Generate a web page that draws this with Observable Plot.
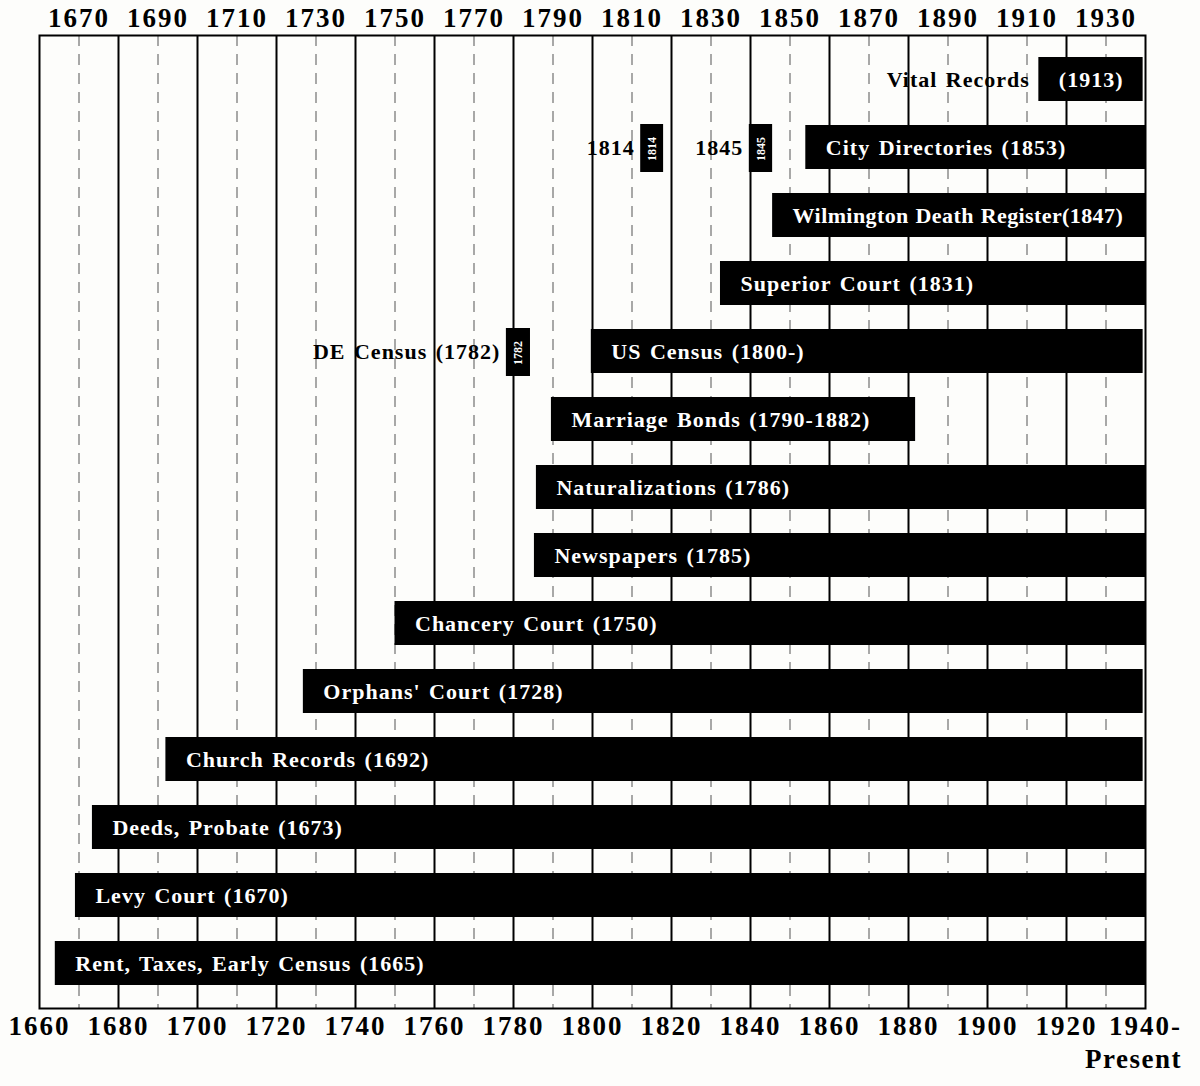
<!DOCTYPE html>
<html>
<head>
<meta charset="utf-8">
<script src="https://cdn.jsdelivr.net/npm/d3@7"></script>
<script src="https://cdn.jsdelivr.net/npm/@observablehq/plot@0.6"></script>
<style>
  html, body { margin: 0; padding: 0; background: #fdfdfb; }
  #chart svg { display: block; background: #fdfdfb; }
</style>
</head>
<body>
<div id="chart"></div>
<script>
// Record series (rows top to bottom)
const rows = [
  "Vital Records", "City Directories", "Wilmington Death Register", "Superior Court",
  "US Census", "Marriage Bonds", "Naturalizations", "Newspapers", "Chancery Court",
  "Orphans' Court", "Church Records", "Deeds, Probate", "Levy Court",
  "Rent, Taxes, Early Census"
];
const barLabels = [
  "(1913)", "City Directories (1853)", "Wilmington Death Register(1847)", "Superior Court (1831)",
  "US Census (1800-)", "Marriage Bonds (1790-1882)", "Naturalizations (1786)", "Newspapers (1785)",
  "Chancery Court (1750)", "Orphans' Court (1728)", "Church Records (1692)", "Deeds, Probate (1673)",
  "Levy Court (1670)", "Rent, Taxes, Early Census (1665)"
];
const starts = [1913, 1854, 1845.6, 1832.4, 1799.7, 1789.6, 1785.8, 1785.3, 1750, 1726.8, 1692, 1673.4, 1669.1, 1664];
const ends   = [1939.4, 1940, 1940, 1940, 1939.4, 1881.8, 1940, 1940, 1940, 1939.4, 1939.4, 1940, 1940, 1940];

// Outside (black) labels
const outRows = ["Vital Records"];
const outLabels = ["Vital Records"];
const outX = [1913];

// Small single-year markers
const markerRows   = ["City Directories", "City Directories", "US Census"];
const markerYears  = ["1814", "1845", "1782"];
const markerStarts = [1812.2, 1839.7, 1778.2];
const markerEnds   = [1818.0, 1845.6, 1784.3];
const markerOuter  = ["1814", "1845", "DE Census (1782)"];

// Axis ticks
const topTicks = [1670, 1690, 1710, 1730, 1750, 1770, 1790, 1810, 1830, 1850, 1870, 1890, 1910, 1930];
const bottomTicks = [1660, 1680, 1700, 1720, 1740, 1760, 1780, 1800, 1820, 1840, 1860, 1880, 1900, 1920, 1940];
const solidGrid = [1680, 1700, 1720, 1740, 1760, 1780, 1800, 1820, 1840, 1860, 1880, 1900, 1920];
const dashedGrid = topTicks;

const bars = rows.map((r, i) => ({row: r, label: barLabels[i], x1: starts[i], x2: ends[i]}));
const outs = outRows.map((r, i) => ({row: r, label: outLabels[i], x: outX[i]}));
const markers = markerRows.map((r, i) => ({row: r, year: markerYears[i], x1: markerStarts[i], x2: markerEnds[i], outer: markerOuter[i]}));

const FONT = "'Liberation Serif', 'Times New Roman', serif";

const chart = Plot.plot({
  width: 1200,
  height: 1086,
  marginTop: 35,
  marginBottom: 78,
  marginLeft: 39,
  marginRight: 55,
  style: {fontFamily: FONT, background: "#fdfdfb", overflow: "visible"},
  x: {domain: [1660, 1940], axis: null},
  y: {domain: rows, range: [45, 997], paddingInner: 0.35, paddingOuter: 0.175, axis: null},
  marks: [
    Plot.ruleX(dashedGrid, {stroke: "#8c8c8c", strokeWidth: 1.5, strokeDasharray: "11,8"}),
    Plot.ruleX(solidGrid, {stroke: "#000", strokeWidth: 2}),
    Plot.frame({stroke: "#000", strokeWidth: 2}),
    Plot.barX(bars, {y: "row", x1: "x1", x2: "x2", fill: "#000"}),
    Plot.barX(markers, {y: "row", x1: "x1", x2: "x2", fill: "#000", insetTop: -1, insetBottom: -3}),
    Plot.text(bars, {
      y: "row", x: "x1", text: "label", dx: 20, textAnchor: "start", fill: "#fff",
      fontSize: 22, fontWeight: "bold"
    }),
    Plot.text(outs, {
      y: "row", x: "x", text: "label", dx: -9, textAnchor: "end", fill: "#000",
      fontSize: 22, fontWeight: "bold"
    }),
    Plot.text(markers, {
      y: "row", x: "x1", text: "outer", dx: -6, textAnchor: "end", fill: "#000",
      fontSize: 22, fontWeight: "bold"
    }),
    Plot.text(markers, {
      y: "row", x: d => (d.x1 + d.x2) / 2, text: "year", rotate: -90, dy: 1.5, fill: "#fff",
      fontSize: 12, fontWeight: "bold"
    }),
    Plot.axisX(topTicks, {
      anchor: "top", tickSize: 0, tickPadding: 9, tickFormat: d => String(d),
      fontSize: 27, fontWeight: "bold", fill: "#000"
    }),
    Plot.axisX(bottomTicks, {
      anchor: "bottom", tickSize: 0, tickPadding: 7, tickFormat: d => d === 1940 ? "1940-" : String(d),
      fontSize: 27, fontWeight: "bold", fill: "#000"
    }),
    Plot.text(["Present"], {
      frameAnchor: "bottom-right", dx: 36.5, dy: 59, textAnchor: "end",
      fontSize: 27, fontWeight: "bold", fill: "#000"
    })
  ]
});

// Typographic spacing to match the reference's spaced-out bold serif
const svg = d3.select(chart);
svg.selectAll("text").each(function () {
  const t = d3.select(this);
  const holder = this.closest("[font-size]");
  const fs = holder ? holder.getAttribute("font-size") : null;
  const content = this.textContent;
  if (fs === "22") {
    if (content.startsWith("Wilmington")) {
      t.style("letter-spacing", "0.4px").style("word-spacing", "1px");
    } else {
      t.style("letter-spacing", "1px").style("word-spacing", "2px");
    }
  } else if (fs === "27") {
    t.style("letter-spacing", content === "Present" ? "1.5px" : "2px");
  }
});

document.getElementById("chart").appendChild(chart);
</script>
</body>
</html>
